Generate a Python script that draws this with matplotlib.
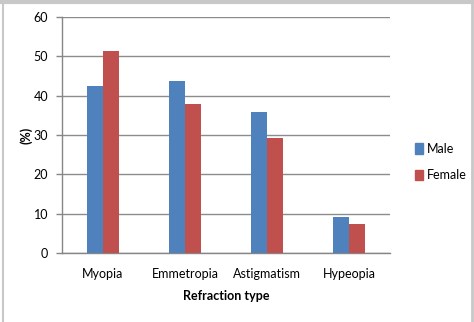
import numpy as np
import matplotlib
matplotlib.use('Agg')
import matplotlib.pyplot as plt
import matplotlib.patches as mpatches

categories = ["Myopia", "Emmetropia", "Astigmatism", "Hypeopia"]
male = [42.5, 43.7, 35.8, 9.2]
female = [51.3, 37.8, 29.3, 7.5]
y_ticks = [0, 10, 20, 30, 40, 50, 60]

plt.rcParams['font.family'] = ['Lato', 'DejaVu Sans']

fig = plt.figure(figsize=(4.74, 3.22), dpi=100, facecolor="white")
# axes box in pixels: left 62, right 390, top 17, bottom 253
W, H = 474, 322
ax = fig.add_axes([62 / W, 1 - 253 / H, (390 - 62) / W, (253 - 17) / H])

x = np.arange(len(categories))
bw = 0.2
ax.bar(x - bw / 2, male, bw, color="#4f81bd", label="Male", zorder=3)
ax.bar(x + bw / 2, female, bw, color="#c0504d", label="Female", zorder=3)

ax.set_xlim(-0.5, len(categories) - 0.5)
ax.set_ylim(0, 60)
ax.set_yticks(y_ticks)
ax.set_xticks(x)
ax.set_xticklabels(categories)
ax.yaxis.grid(True, color="#8c8c8c", linewidth=1.0, zorder=0)
ax.set_axisbelow(True)

for s in ["top", "right"]:
    ax.spines[s].set_visible(False)
for s in ["left", "bottom"]:
    ax.spines[s].set_color("#868686")
    ax.spines[s].set_linewidth(1.0)

ax.tick_params(axis="y", length=4, width=1, color="#868686", labelsize=9, pad=6)
ax.tick_params(axis="x", length=0, labelsize=9, pad=11)

ax.set_xlabel("Refraction type", fontsize=9, fontweight="bold", labelpad=7)
ax.set_ylabel("(%)", fontsize=9, fontweight="bold", labelpad=1)

handles = [mpatches.Patch(color="#4f81bd", label="Male"),
           mpatches.Patch(color="#c0504d", label="Female")]
fig.legend(handles=handles, loc="center left", bbox_to_anchor=(404 / W, 1 - 162 / H),
           frameon=False, fontsize=9, handlelength=0.6, handleheight=0.9,
           handletextpad=0.3, labelspacing=1.15)

# outer frame
frame_color = "#c8c8c8"
fig.add_artist(plt.Line2D([0, 1], [1 - 1.5 / H, 1 - 1.5 / H], transform=fig.transFigure, color=frame_color, linewidth=3))
fig.add_artist(plt.Line2D([2.5 / W, 2.5 / W], [0, 1], transform=fig.transFigure, color=frame_color, linewidth=1.5))
fig.add_artist(plt.Line2D([1 - 2 / W, 1 - 2 / W], [0, 1], transform=fig.transFigure, color=frame_color, linewidth=2))

fig.savefig("out.png", dpi=100, facecolor="white")
